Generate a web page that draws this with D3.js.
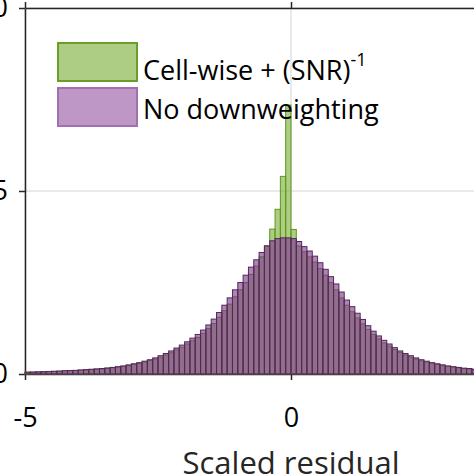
<!DOCTYPE html>
<html>
<head>
<meta charset="utf-8">
<script src="https://cdn.jsdelivr.net/npm/d3@7"></script>
<style>
  body { margin: 0; background: #fff; }
  svg { display: block; font-family: 'Open Sans', 'Noto Sans', sans-serif; }
  .axis path, .axis line { stroke: #262626; stroke-width: 1.5; }
  .axis text { font-size: 27px; fill: #000; font-family: 'Open Sans', sans-serif; }
  .grid line { stroke: #e3e3e3; stroke-width: 1.5; }
</style>
</head>
<body>
<div id="chartContainer"></div>
<script>
// histogram bins: width 0.1 from -5 to 5
const binStart = -5;
const binWidth = 0.1;

// "No downweighting" bin heights
const noDown = [
  0.05, 0.055, 0.06, 0.065, 0.07, 0.075, 0.08, 0.09, 0.095, 0.10,
  0.11, 0.12, 0.13, 0.14, 0.15, 0.165, 0.18, 0.20, 0.22, 0.25,
  0.28, 0.31, 0.35, 0.39, 0.44, 0.50, 0.56, 0.63, 0.71, 0.79,
  0.88, 0.98, 1.08, 1.20, 1.34, 1.50, 1.68, 1.88, 2.08, 2.30,
  2.50, 2.70, 2.92, 3.12, 3.32, 3.50, 3.64, 3.70, 3.72, 3.72,
  3.70, 3.62, 3.48, 3.36, 3.22, 3.04, 2.86, 2.66, 2.46, 2.24,
  2.02, 1.84, 1.66, 1.49, 1.32, 1.17, 1.04, 0.92, 0.82, 0.72,
  0.63, 0.56, 0.50, 0.44, 0.39, 0.35, 0.31, 0.28, 0.25, 0.22,
  0.20, 0.18, 0.16, 0.15, 0.13, 0.12, 0.11, 0.10, 0.09, 0.085,
  0.08, 0.07, 0.065, 0.06, 0.055, 0.05, 0.045, 0.04, 0.04, 0.035
];

// "Cell-wise + (SNR)^-1" bin heights
const cellWise = [
  0.05, 0.05, 0.055, 0.06, 0.065, 0.07, 0.075, 0.085, 0.09, 0.095,
  0.105, 0.11, 0.12, 0.13, 0.14, 0.155, 0.17, 0.19, 0.21, 0.23,
  0.26, 0.29, 0.33, 0.37, 0.41, 0.46, 0.52, 0.58, 0.66, 0.73,
  0.82, 0.91, 1.00, 1.11, 1.24, 1.38, 1.55, 1.73, 1.91, 2.11,
  2.30, 2.50, 2.72, 2.95, 3.20, 3.50, 3.96, 4.50, 5.40, 7.35,
  3.95, 3.50, 3.34, 3.20, 3.06, 2.88, 2.70, 2.50, 2.30, 2.08,
  1.88, 1.70, 1.53, 1.37, 1.22, 1.08, 0.96, 0.85, 0.76, 0.67,
  0.59, 0.52, 0.46, 0.41, 0.36, 0.32, 0.29, 0.26, 0.23, 0.21,
  0.19, 0.17, 0.15, 0.14, 0.12, 0.11, 0.10, 0.095, 0.085, 0.08,
  0.075, 0.065, 0.06, 0.055, 0.05, 0.045, 0.04, 0.04, 0.035, 0.03
];

const xTicks = [-5, 0, 5];
const yTicks = [0, 5, 10];
const seriesNames = ['Cell-wise + (SNR)', 'No downweighting'];

const svgWidth = 474;
const svgHeight = 474;

const svg = d3.select('#chartContainer').append('svg').attr('width', svgWidth).attr('height', svgHeight);

const xScale = d3.scaleLinear().domain([-5, 5]).range([25, 557]);
const yScale = d3.scaleLinear().domain([0, 10]).range([374, 8]);

// grid
const grid = svg.append('g').attr('class', 'grid');
grid.selectAll('.gx').data(xTicks).enter().append('line')
  .attr('x1', (d) => xScale(d)).attr('x2', (d) => xScale(d))
  .attr('y1', yScale(0)).attr('y2', yScale(10));
grid.selectAll('.gy').data(yTicks).enter().append('line')
  .attr('x1', xScale(-5)).attr('x2', xScale(5))
  .attr('y1', (d) => yScale(d)).attr('y2', (d) => yScale(d));

// axes (ticks outward on all four sides)
svg.append('g').attr('class', 'axis')
  .attr('transform', `translate(0, ${yScale(0)})`)
  .call(d3.axisBottom(xScale).tickValues(xTicks).tickSize(6).tickPadding(28).tickSizeOuter(0).tickFormat(d3.format('d')));
svg.append('g').attr('class', 'axis')
  .attr('transform', `translate(0, ${yScale(10)})`)
  .call(d3.axisTop(xScale).tickValues(xTicks).tickSize(6).tickSizeOuter(0).tickFormat(''));
svg.append('g').attr('class', 'axis')
  .attr('transform', `translate(${xScale(-5)}, 0)`)
  .call(d3.axisLeft(yScale).tickValues(yTicks).tickSize(6).tickPadding(11).tickSizeOuter(0));
svg.append('g').attr('class', 'axis')
  .attr('transform', `translate(${xScale(5)}, 0)`)
  .call(d3.axisRight(yScale).tickValues(yTicks).tickSize(6).tickSizeOuter(0).tickFormat(''));

// the minus sign is a hyphen in the original
svg.selectAll('.axis text').text(function () { return this.textContent.replace('−', '-'); });

// bars
function drawHist(values, fill, stroke, fillOpacity) {
  svg.append('g').selectAll('rect').data(values).enter().append('rect')
    .attr('x', (d, i) => xScale(binStart + i * binWidth))
    .attr('width', (d, i) => xScale(binStart + (i + 1) * binWidth) - xScale(binStart + i * binWidth))
    .attr('y', (d) => yScale(d))
    .attr('height', (d) => yScale(0) - yScale(d))
    .attr('fill', fill)
    .attr('fill-opacity', fillOpacity)
    .attr('stroke', stroke)
    .attr('stroke-width', 1);
}
drawHist(cellWise, '#77ac30', '#5e961f', 0.6);
drawHist(noDown, '#7e2f8e', '#52285a', 0.6);

// legend (no background box)
const legend = svg.append('g');
const legendColors = [['#77ac30', '#6a9e28', 0.6], ['#7e2f8e', '#a070b0', 0.5]];
legend.selectAll('rect').data(seriesNames).enter().append('rect')
  .attr('x', 58).attr('y', (d, i) => 43 + i * 45)
  .attr('width', 79).attr('height', 38)
  .attr('fill', (d, i) => legendColors[i][0])
  .attr('fill-opacity', (d, i) => legendColors[i][2])
  .attr('stroke', (d, i) => legendColors[i][1])
  .attr('stroke-width', 2);
const lt = legend.selectAll('text').data(seriesNames).enter().append('text')
  .attr('x', 143).attr('y', (d, i) => 80 + i * 39)
  .attr('font-size', 27)
  .attr('fill', '#000')
  .text((d) => d);
lt.filter((d, i) => i === 0).append('tspan')
  .attr('dy', -14).attr('font-size', 18).text('-1');

// x axis title
svg.append('text')
  .attr('x', xScale(0))
  .attr('y', 474)
  .attr('text-anchor', 'middle')
  .attr('font-size', 31)
  .attr('fill', '#262626')
  .text('Scaled residual');
</script>
</body>
</html>
